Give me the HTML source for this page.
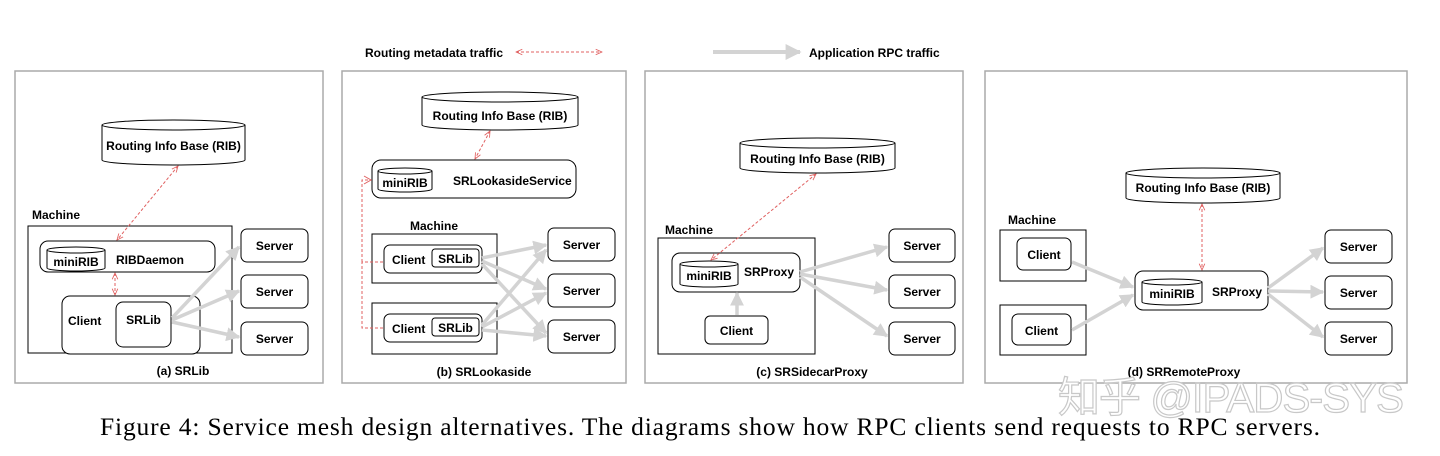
<!DOCTYPE html>
<html><head><meta charset="utf-8"><style>
html,body{margin:0;padding:0;background:#fff;}
svg{display:block;}
text{font-family:"Liberation Sans",sans-serif;font-weight:bold;fill:#000;}
</style></head><body>
<svg width="1440" height="456" viewBox="0 0 1440 456" xmlns="http://www.w3.org/2000/svg">
<defs>
<marker id="ga" viewBox="0 0 10 10" refX="9" refY="5" markerWidth="4" markerHeight="4" orient="auto" markerUnits="strokeWidth"><path d="M0,0L10,5L0,10z" fill="#d3d3d3"/></marker>
<marker id="ra" viewBox="0 0 10 10" refX="9" refY="5" markerWidth="7" markerHeight="7" orient="auto-start-reverse" markerUnits="userSpaceOnUse"><path d="M0,1L9,5L0,9" fill="none" stroke="#e06060" stroke-width="1.2"/></marker>
</defs>
<g font-size="12">
<text x="365" y="57">Routing metadata traffic</text>
<line x1="516" y1="52" x2="602" y2="52" stroke="#e06060" stroke-width="1" stroke-dasharray="3,2" marker-start="url(#ra)" marker-end="url(#ra)"/>
<line x1="713" y1="52" x2="800" y2="52" stroke="#d3d3d3" stroke-width="4" marker-end="url(#ga)"/>
<text x="809" y="57">Application RPC traffic</text>

<g fill="none" stroke="#aaa" stroke-width="1.5">
<rect x="15" y="71" width="308" height="312"/>
<rect x="342" y="71" width="284" height="312"/>
<rect x="645" y="71" width="318" height="312"/>
<rect x="985" y="71" width="422" height="312"/>
</g>

<!-- (a) -->
<g fill="#fff" stroke="#000" stroke-width="1">
<path d="M102,125 v35 a71.5,5 0 0 0 143,0 v-35"/>
<ellipse cx="173.5" cy="125" rx="71.5" ry="5"/>
<rect x="28" y="226" width="204" height="127"/>
<rect x="40" y="241" width="175" height="31" rx="8"/>
<path d="M47,250 v18 a29,3 0 0 0 58,0 v-18"/><ellipse cx="76" cy="250" rx="29" ry="3"/>
<rect x="62" y="296" width="138" height="58" rx="8"/>
<rect x="116" y="302" width="55" height="45" rx="7"/>
<rect x="241" y="229" width="67" height="33" rx="6"/>
<rect x="241" y="275" width="67" height="33" rx="6"/>
<rect x="241" y="322" width="67" height="33" rx="6"/>
</g>
<text x="173.5" y="150" text-anchor="middle">Routing Info Base (RIB)</text>
<text x="32" y="219">Machine</text>
<text x="76" y="266" text-anchor="middle">miniRIB</text>
<text x="116" y="264">RIBDaemon</text>
<text x="68" y="325">Client</text>
<text x="143.5" y="324" text-anchor="middle">SRLib</text>
<text x="274.5" y="250" text-anchor="middle">Server</text>
<text x="274.5" y="296" text-anchor="middle">Server</text>
<text x="274.5" y="343" text-anchor="middle">Server</text>
<line x1="178" y1="166" x2="117" y2="240" stroke="#e06060" stroke-dasharray="3,2" marker-start="url(#ra)" marker-end="url(#ra)"/>
<line x1="115" y1="273" x2="115" y2="295" stroke="#e06060" stroke-dasharray="3,2" marker-start="url(#ra)" marker-end="url(#ra)"/>
<g stroke="#d3d3d3" stroke-width="3.5" fill="none" marker-end="url(#ga)">
<line x1="172" y1="318" x2="239" y2="247"/>
<line x1="172" y1="320" x2="239" y2="291"/>
<line x1="172" y1="322" x2="239" y2="337"/>
</g>
<text x="183" y="375" text-anchor="middle">(a) SRLib</text>

<!-- (b) -->
<g fill="#fff" stroke="#000" stroke-width="1">
<path d="M422,97 v28 a78,5 0 0 0 156,0 v-28"/><ellipse cx="500" cy="97" rx="78" ry="5"/>
<rect x="372" y="160" width="204" height="38" rx="9"/>
<path d="M378,171 v18 a27,3 0 0 0 54,0 v-18"/><ellipse cx="405" cy="171" rx="27" ry="3"/>
<rect x="372" y="234" width="125" height="49"/>
<rect x="384" y="245" width="98" height="28" rx="6"/>
<rect x="432" y="249" width="47" height="18" rx="3"/>
<rect x="372" y="303" width="125" height="51"/>
<rect x="384" y="314" width="98" height="28" rx="6"/>
<rect x="432" y="318" width="47" height="18" rx="3"/>
<rect x="548" y="228" width="67" height="33" rx="6"/>
<rect x="548" y="274" width="67" height="33" rx="6"/>
<rect x="548" y="320" width="67" height="33" rx="6"/>
</g>
<text x="500" y="120" text-anchor="middle">Routing Info Base (RIB)</text>
<text x="405" y="187" text-anchor="middle">miniRIB</text>
<text x="453" y="185">SRLookasideService</text>
<text x="410" y="230">Machine</text>
<text x="392" y="264">Client</text>
<text x="455.5" y="263" text-anchor="middle">SRLib</text>
<text x="392" y="333">Client</text>
<text x="455.5" y="332" text-anchor="middle">SRLib</text>
<text x="581.5" y="249" text-anchor="middle">Server</text>
<text x="581.5" y="295" text-anchor="middle">Server</text>
<text x="581.5" y="341" text-anchor="middle">Server</text>
<line x1="490" y1="131" x2="475" y2="159" stroke="#e06060" stroke-dasharray="3,2" marker-start="url(#ra)" marker-end="url(#ra)"/>
<path d="M383,262 H362 V328 H383 M362,262 V180 H370" fill="none" stroke="#e06060" stroke-dasharray="3,2"/>
<path d="M364,176 L371,180 L364,184" fill="none" stroke="#e06060"/>
<g stroke="#d3d3d3" stroke-width="3.5" fill="none" marker-end="url(#ga)">
<line x1="482" y1="258" x2="546" y2="245"/>
<line x1="482" y1="261" x2="546" y2="289"/>
<line x1="482" y1="264" x2="546" y2="333"/>
<line x1="482" y1="325" x2="546" y2="250"/>
<line x1="482" y1="327" x2="546" y2="293"/>
<line x1="482" y1="330" x2="546" y2="336"/>
</g>
<text x="484" y="376" text-anchor="middle">(b) SRLookaside</text>

<!-- (c) -->
<g fill="#fff" stroke="#000" stroke-width="1">
<path d="M740,143 v25 a77.5,5 0 0 0 155,0 v-25"/><ellipse cx="817.5" cy="143" rx="77.5" ry="5"/>
<rect x="658" y="238" width="157" height="116"/>
<rect x="672" y="253" width="128" height="39" rx="8"/>
<path d="M680,264 v20 a29,3 0 0 0 58,0 v-20"/><ellipse cx="709" cy="264" rx="29" ry="3"/>
<rect x="705" y="316" width="63" height="28" rx="5"/>
<rect x="889" y="229" width="66" height="33" rx="6"/>
<rect x="889" y="275" width="66" height="33" rx="6"/>
<rect x="889" y="322" width="66" height="33" rx="6"/>
</g>
<text x="817.5" y="163" text-anchor="middle">Routing Info Base (RIB)</text>
<text x="665" y="234">Machine</text>
<text x="709" y="280" text-anchor="middle">miniRIB</text>
<text x="744" y="276">SRProxy</text>
<text x="736.5" y="335" text-anchor="middle">Client</text>
<text x="922" y="250" text-anchor="middle">Server</text>
<text x="922" y="296" text-anchor="middle">Server</text>
<text x="922" y="343" text-anchor="middle">Server</text>
<line x1="816" y1="174" x2="711" y2="260" stroke="#e06060" stroke-dasharray="3,2" marker-start="url(#ra)" marker-end="url(#ra)"/>
<g stroke="#d3d3d3" stroke-width="3.5" fill="none" marker-end="url(#ga)">
<line x1="800" y1="272" x2="887" y2="247"/>
<line x1="800" y1="274" x2="887" y2="290"/>
<line x1="800" y1="277" x2="887" y2="336"/>
<line x1="737" y1="315" x2="737" y2="293"/>
</g>
<text x="812" y="376" text-anchor="middle">(c) SRSidecarProxy</text>

<!-- (d) -->
<g fill="#fff" stroke="#000" stroke-width="1">
<path d="M1126,173 v25 a77,5 0 0 0 154,0 v-25"/><ellipse cx="1203" cy="173" rx="77" ry="5"/>
<rect x="1000" y="230" width="86" height="51"/>
<rect x="1017" y="238" width="54" height="32" rx="6"/>
<rect x="1000" y="305" width="86" height="50"/>
<rect x="1012" y="314" width="59" height="31" rx="6"/>
<rect x="1135" y="271" width="133" height="39" rx="8"/>
<path d="M1142,282 v20 a30,3 0 0 0 60,0 v-20"/><ellipse cx="1172" cy="282" rx="30" ry="3"/>
<rect x="1325" y="230" width="67" height="33" rx="6"/>
<rect x="1325" y="276" width="67" height="33" rx="6"/>
<rect x="1325" y="322" width="67" height="33" rx="6"/>
</g>
<text x="1203" y="192" text-anchor="middle">Routing Info Base (RIB)</text>
<text x="1008" y="224">Machine</text>
<text x="1044" y="259" text-anchor="middle">Client</text>
<text x="1041.5" y="335" text-anchor="middle">Client</text>
<text x="1172" y="298" text-anchor="middle">miniRIB</text>
<text x="1212" y="296">SRProxy</text>
<text x="1358.5" y="251" text-anchor="middle">Server</text>
<text x="1358.5" y="297" text-anchor="middle">Server</text>
<text x="1358.5" y="343" text-anchor="middle">Server</text>
<line x1="1202" y1="204" x2="1202" y2="270" stroke="#e06060" stroke-dasharray="3,2" marker-start="url(#ra)" marker-end="url(#ra)"/>
<g stroke="#d3d3d3" stroke-width="3.5" fill="none" marker-end="url(#ga)">
<line x1="1072" y1="262" x2="1133" y2="287"/>
<line x1="1072" y1="330" x2="1133" y2="295"/>
<line x1="1268" y1="288" x2="1323" y2="248"/>
<line x1="1268" y1="291" x2="1323" y2="292"/>
<line x1="1268" y1="294" x2="1323" y2="337"/>
</g>
<text x="1184" y="376" text-anchor="middle">(d) SRRemoteProxy</text>
</g>

<text x="1058" y="412" font-size="42" style="font-weight:normal;font-family:'Liberation Sans','Noto Sans CJK SC',sans-serif;fill:#fff;stroke:#c8c8c8;stroke-width:1.2" textLength="346">知乎 @IPADS-SYS</text>

<text x="100" y="435" font-size="25.5" style="font-weight:normal;font-family:'Liberation Serif',serif" textLength="1220">Figure 4: Service mesh design alternatives. The diagrams show how RPC clients send requests to RPC servers.</text>
</svg>
</body></html>
